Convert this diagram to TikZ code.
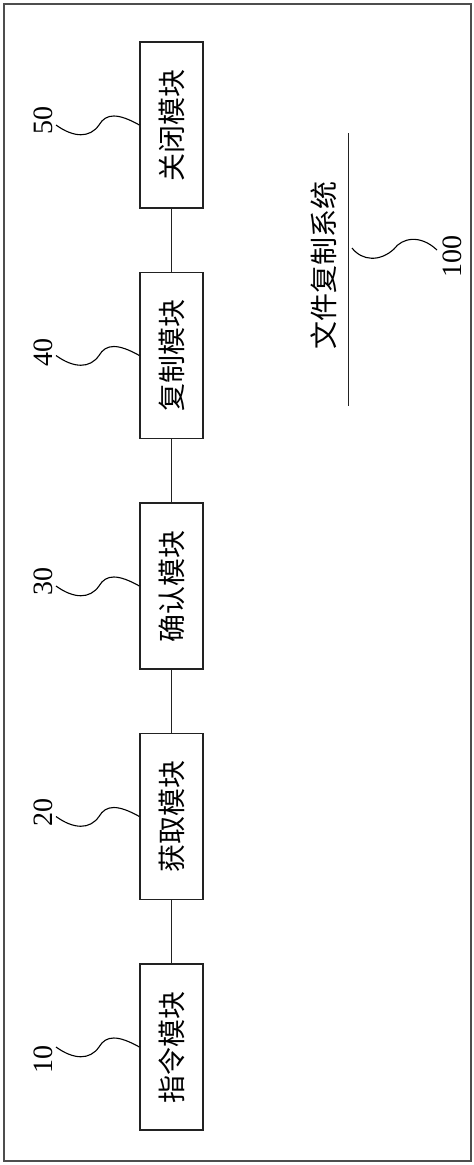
\documentclass[tikz,border=0pt]{standalone}
\usepackage{fontspec}
\setmainfont{Liberation Serif}
\newfontfamily\cjk{Noto Sans CJK SC}
\usetikzlibrary{calc}
\definecolor{cLine}{HTML}{222222}

\begin{document}
\begin{tikzpicture}[
    x=1pt, y=-1pt,
    frame/.style={draw=cLine!80, line width=1.5pt},
    modbox/.style={draw=cLine, line width=1.2pt, rotate=90, inner sep=0pt,
                   minimum width=166pt, minimum height=63pt,
                   font=\cjk\fontsize{28}{28}\selectfont},
    sysname/.style={rotate=90, inner sep=0pt,
                    font=\cjk\fontsize{28}{28}\selectfont},
    num/.style={rotate=90, inner sep=0pt, font=\fontsize{28}{28}\selectfont},
    link/.style={draw=cLine, line width=1pt},
    wave/.style={draw=black, line width=1.1pt},
]
\useasboundingbox (0,0) rectangle (474,1165);

% ===========================================================================
% Rahmen
% ===========================================================================
\draw[frame] (4,4) rectangle (471,1161);

% ===========================================================================
% Module 10 ... 50
% ===========================================================================
\foreach \n/\t/\y/\ly in {50/关闭模块/125/120, 40/复制模块/355.5/352,
                          30/确认模块/586/581, 20/获取模块/816.5/812,
                          10/指令模块/1047/1059} {
    \node[modbox] (m\n) at (171.5,\y) {\t};
    \node[num] (l\n) at (43,\ly) {\n};
    \coordinate (w\n) at (56,\y);
    \draw[wave] (w\n) .. controls (74,\y+13) and (90,\y+13) .. (99,\y)
                      .. controls (106,\y-12) and (118,\y-12) .. (m\n.north);
}

\draw[link] (m10) -- (m20);
\draw[link] (m20) -- (m30);
\draw[link] (m30) -- (m40);
\draw[link] (m40) -- (m50);

% ===========================================================================
% System 100
% ===========================================================================
\node[sysname] (sys) at (323.5,265) {文件复制系统};
\coordinate (sysA) at (348,133);
\coordinate (sysB) at (348,406);
\draw[link] (sysA) -- (sysB);

\node[num] (l100) at (452,256) {100};
\coordinate (w100) at (352,248);
\draw[wave] (w100) .. controls (362,261) and (380,262) .. (394,249)
                   .. controls (402,238) and (420,234) .. (437,250);

\end{tikzpicture}
\end{document}
